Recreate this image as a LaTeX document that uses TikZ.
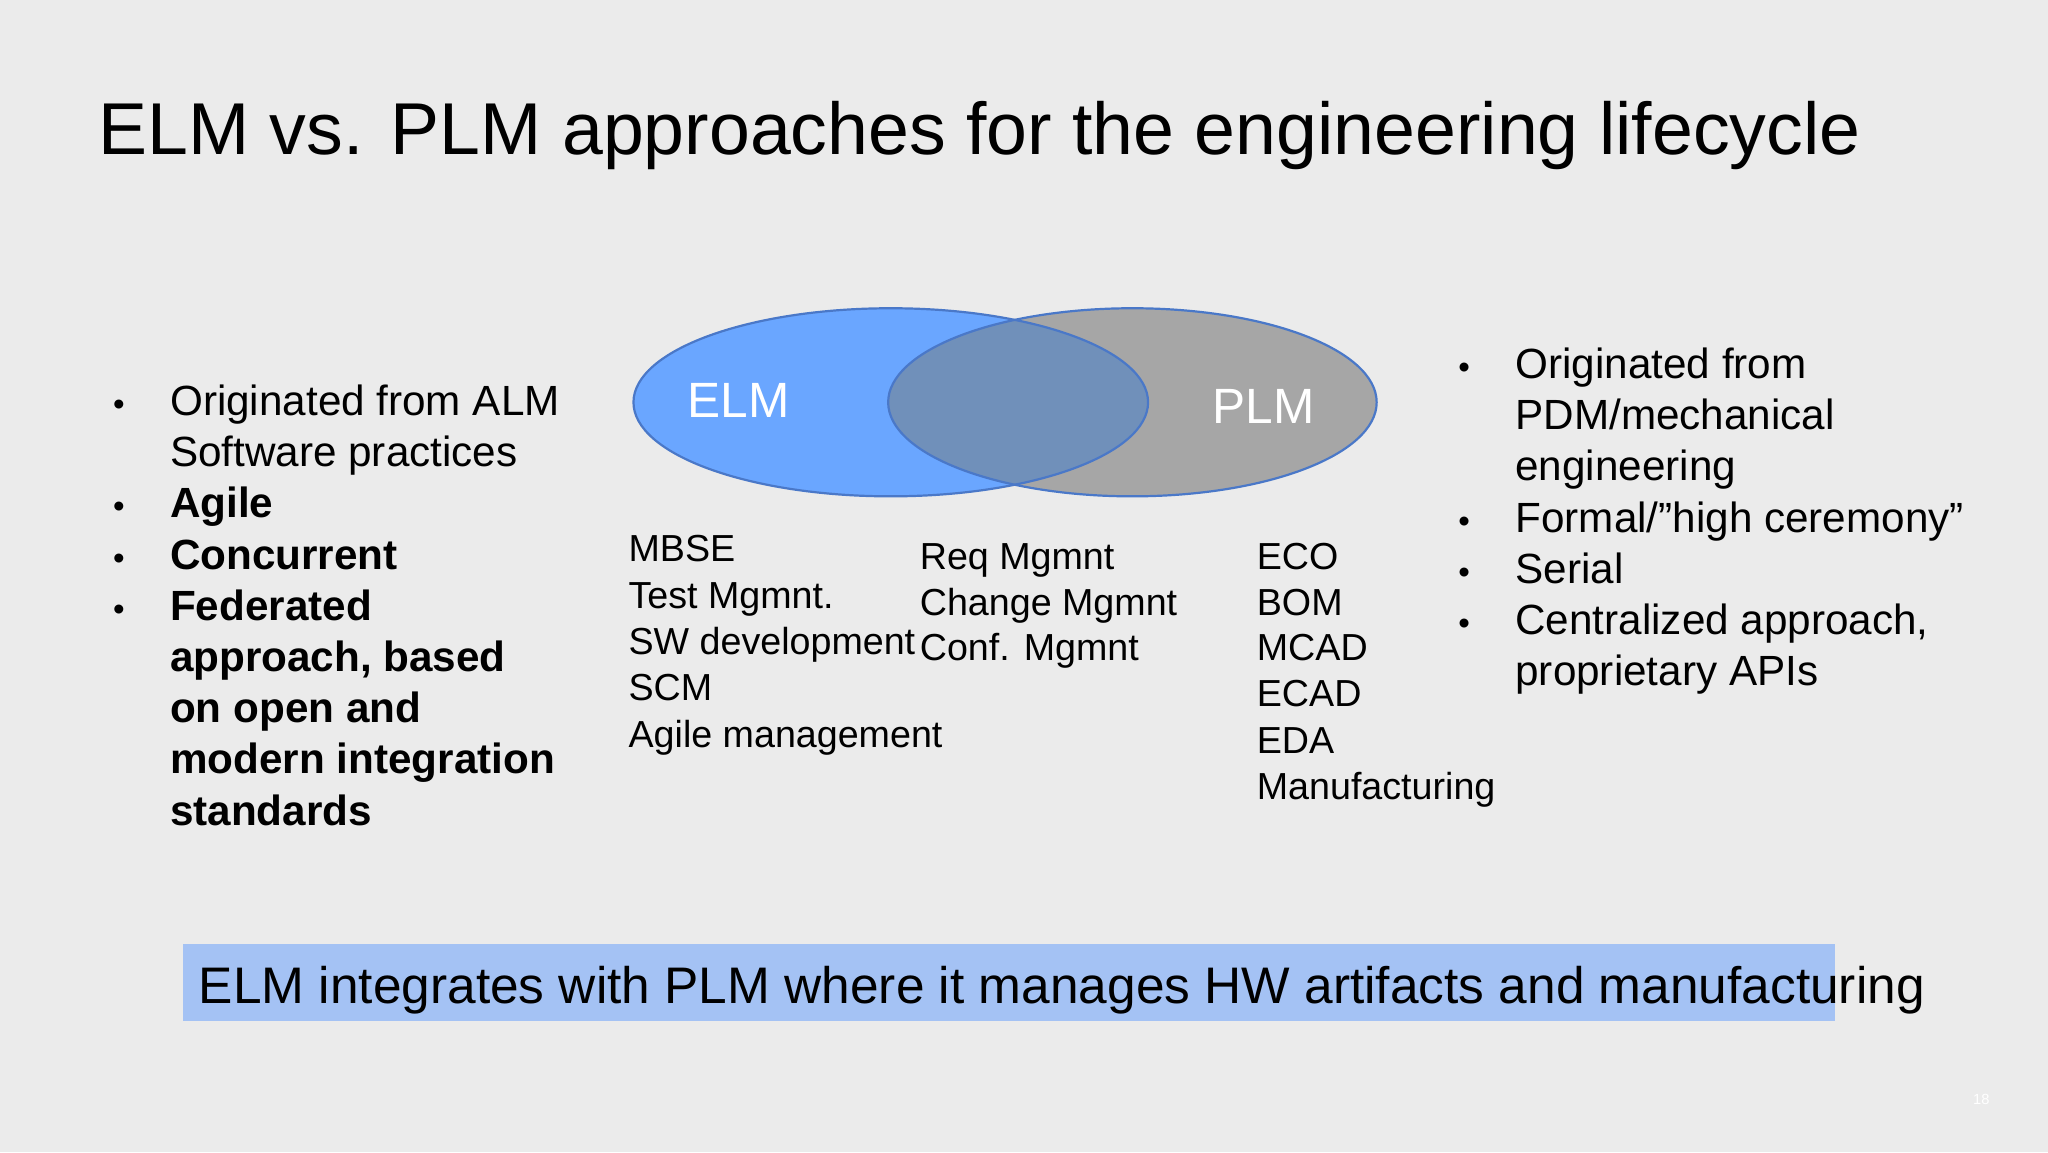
\documentclass[tikz,border=0pt]{standalone}
\usepackage{fontspec}
\setmainfont{Liberation Sans}
\definecolor{bg}{HTML}{EBEBEB}
\definecolor{elmblue}{HTML}{6AA6FF}
\definecolor{plmgray}{HTML}{A6A6A6}
\definecolor{overlap}{HTML}{7090BA}
\definecolor{edge}{HTML}{4A78C8}
\definecolor{hl}{HTML}{A4C2F4}
\begin{document}
\begin{tikzpicture}[x=0.25mm,y=-0.25mm,
  body/.style={anchor=base west,inner sep=0pt,font=\fontsize{23}{27}\selectfont},
  mid/.style={anchor=base west,inner sep=0pt,font=\fontsize{20.5}{24}\selectfont},
  bul/.style={anchor=base,inner sep=0pt,font=\fontsize{18}{20}\selectfont}]
\fill[bg] (0,0) rectangle (1568,882);
\useasboundingbox (0,0) rectangle (1568,882);
\node[anchor=base west,inner sep=0pt,font=\fontsize{40}{46}\selectfont] (title) at (75,118) {ELM vs. PLM approaches for the engineering lifecycle};
% Venn
\fill[elmblue] (682,308) ellipse [x radius=197,y radius=72];
\fill[plmgray] (867,308) ellipse [x radius=187,y radius=72];
\begin{scope}
\clip (682,308) ellipse [x radius=197,y radius=72];
\fill[overlap] (867,308) ellipse [x radius=187,y radius=72];
\end{scope}
\draw[edge,line width=1.2pt] (682,308) ellipse [x radius=197,y radius=72];
\draw[edge,line width=1.2pt] (867,308) ellipse [x radius=187,y radius=72];
\node[anchor=base west,inner sep=0pt,white,font=\fontsize{27}{30}\selectfont] (elm) at (526,320) {ELM};
\node[anchor=base west,inner sep=0pt,white,font=\fontsize{27}{30}\selectfont] (plm) at (928,324) {PLM};
% left bullets
\foreach \y in {318,396,436,475} \node[bul] at (91,\y) {•};
\node[body] (l1) at (130,318) {Originated from ALM};
\node[body] (l2) at (130,357) {Software practices};
\node[body,font=\fontsize{23}{27}\selectfont\bfseries] (l3) at (130,396) {Agile};
\node[body,font=\fontsize{23}{27}\selectfont\bfseries] (l4) at (130,436) {Concurrent};
\node[body,font=\fontsize{23}{27}\selectfont\bfseries] (l5) at (130,475) {Federated};
\node[body,font=\fontsize{23}{27}\selectfont\bfseries] (l6) at (130,514) {approach, based};
\node[body,font=\fontsize{23}{27}\selectfont\bfseries] (l7) at (130,553) {on open and};
\node[body,font=\fontsize{23}{27}\selectfont\bfseries] (l8) at (130,592) {modern integration};
\node[body,font=\fontsize{23}{27}\selectfont\bfseries] (l9) at (130,632) {standards};
% right bullets
\foreach \y in {290,408,447,486} \node[bul] at (1121,\y) {•};
\node[body] (r1) at (1160,290) {Originated from};
\node[body] (r2) at (1160,329) {PDM/mechanical};
\node[body] (r3) at (1160,368) {engineering};
\node[body] (r4) at (1160,408) {Formal/”high ceremony”};
\node[body] (r5) at (1160,447) {Serial};
\node[body] (r6) at (1160,486) {Centralized approach,};
\node[body] (r7) at (1160,525) {proprietary APIs};
% middle columns
\node[mid] (a1) at (481,430) {MBSE};
\node[mid] (a2) at (481,466) {Test Mgmnt.};
\node[mid] (a3) at (481,501) {SW development};
\node[mid] (a4) at (481,536) {SCM};
\node[mid] (a5) at (481,572) {Agile management};
\node[mid] (b1) at (704,436) {Req Mgmnt};
\node[mid] (b2) at (704,471) {Change Mgmnt};
\node[mid] (b3) at (704,506) {Conf. Mgmnt};
\node[mid] (c1) at (962,436) {ECO};
\node[mid] (c2) at (962,471) {BOM};
\node[mid] (c3) at (962,506) {MCAD};
\node[mid] (c4) at (962,541) {ECAD};
\node[mid] (c5) at (962,577) {EDA};
\node[mid] (c6) at (962,612) {Manufacturing};
% bottom
\fill[hl] (140,723) rectangle (1405,782);
\node[anchor=base west,inner sep=0pt,font=\fontsize{28}{32}\selectfont] (bot) at (152,768) {ELM integrates with PLM where it manages HW artifacts and manufacturing};
\node[anchor=base,inner sep=0pt,white,font=\fontsize{8}{9}\selectfont] (pg) at (1517,846) {18};
\end{tikzpicture}
\end{document}
